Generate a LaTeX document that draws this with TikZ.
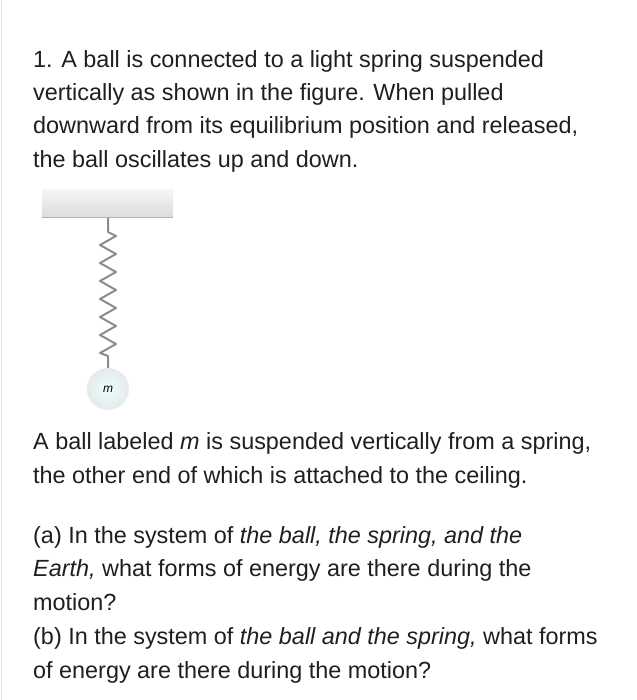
\documentclass[tikz,border=0pt]{standalone}
\usepackage{fontspec}
\setmainfont{Liberation Sans}
\begin{document}
\begin{tikzpicture}[x=1pt,y=-1pt,
  txt/.style={anchor=base west,inner sep=0pt,font=\fontsize{23.4}{26}\selectfont,text=black!88}]
\useasboundingbox (0,0) rectangle (636,700);
\fill[white] (0,0) rectangle (636,700);
\draw[black!12] (1,0) -- (1,700);
\foreach \y/\t [count=\i] in {
 68/{1. A ball is connected to a light spring suspended},
 101/{vertically as shown in the figure. When pulled},
 134/{downward from its equilibrium position and released,},
 168/{the ball oscillates up and down.},
 449/{A ball labeled \textit{m} is suspended vertically from a spring,},
 483/{the other end of which is attached to the ceiling.},
 543/{(a) In the system of \textit{the ball, the spring, and the}},
 576/{\textit{Earth,} what forms of energy are there during the},
 610/{motion?},
 644/{(b) In the system of \textit{the ball and the spring,} what forms},
 678/{of energy are there during the motion?}}
 \node[txt] (t\i) at (33,\y) {\t};
% ceiling
\shade[top color=black!4,bottom color=black!14] (42,190) rectangle (173,218);
\draw[black!30,line width=1pt] (42,218) -- (173,218);
\node[inner sep=0pt,minimum size=0pt] (ceil) at (108,218) {};
% ball
\shade[inner color=blue!10!cyan!8,outer color=blue!30!cyan!25!black!10] (108,389) circle (21);
\node[circle,minimum size=42pt,inner sep=0pt] (ball) at (108,389) {\fontsize{12}{12}\selectfont\textit{m}};
% spring
\draw[black!45,line width=2pt,line join=round] (ceil) -- (108,232)
  \foreach \k in {0,...,6} { -- (116,{236+18*\k}) -- (100,{245+18*\k}) }
  -- (108,356) -- (ball.north);
\end{tikzpicture}
\end{document}
